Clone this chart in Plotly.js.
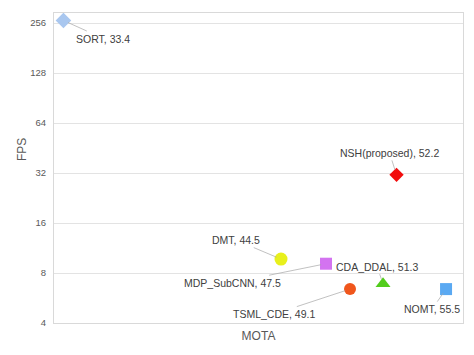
<!DOCTYPE html>
<html><head><meta charset="utf-8">
<script src="https://cdn.plot.ly/plotly-3.0.1.min.js"></script>
<style>html,body{margin:0;padding:0;background:#fff}#chart{width:474px;height:355px}</style>
</head><body><div id="chart"></div>
<script>
const methods = ["SORT", "NSH(proposed)", "DMT", "MDP_SubCNN", "CDA_DDAL", "TSML_CDE", "NOMT"];
const mota = [33.4, 52.2, 44.5, 47.5, 51.3, 49.1, 55.5];
const xPlotted = [30.0, 52.2, 44.5, 47.5, 51.3, 49.1, 55.5];
const fps = [265, 31.2, 9.7, 9.1, 6.9, 6.4, 6.4];
const colors = ["#a9c7ef", "#f20d0d", "#e8f01c", "#d373f0", "#52cc1c", "#f0561c", "#5aa9f2"];
const symbols = ["diamond", "diamond", "circle", "square", "triangle-up", "circle", "square"];
const sizes = [12, 11, 13, 12, 13, 12, 12];
const labelDx = [40, -7, -45, -94, -6, -76, -14];
const labelDy = [18, -22, -19, 19, -17, 25, 20];
const yTicks = [4, 8, 16, 32, 64, 128, 256];

const font = {family: "Liberation Sans, Arial, sans-serif", size: 10, color: "#404040"};
const trace = {
  type: "scatter", mode: "markers", x: xPlotted, y: fps,
  marker: {color: colors, symbol: symbols, size: sizes, opacity: 1, line: {width: 0}},
  hoverinfo: "skip", showlegend: false
};
const annotations = methods.map((m, i) => ({
  x: xPlotted[i], y: Math.log10(fps[i]), xref: "x", yref: "y",
  text: m + ", " + mota[i], showarrow: true, arrowhead: 0, arrowwidth: 0.7,
  arrowcolor: "#a6a6a6", standoff: 5, ax: labelDx[i], ay: labelDy[i],
  font: {family: font.family, size: 10.5, color: "#404040"}
}));
annotations.push({
  text: "FPS", xref: "paper", yref: "paper", x: (22 - 54) / 409, y: (323 - 150) / 310,
  xanchor: "center", yanchor: "middle", textangle: -90, showarrow: false,
  font: {family: font.family, size: 12, color: "#595959"}
});
const layout = {
  width: 474, height: 355,
  margin: {l: 54, r: 11, t: 13, b: 32},
  paper_bgcolor: "#fff", plot_bgcolor: "#fff",
  font: font,
  xaxis: {range: [29.37, 56.63], showticklabels: false, ticks: "", showgrid: false,
    zeroline: false, showline: true, linecolor: "#d9d9d9", linewidth: 1, mirror: true,
    title: {text: "MOTA", standoff: 8, font: {family: font.family, size: 12, color: "#595959"}}},
  yaxis: {type: "log", range: [Math.log10(4), Math.log10(Math.pow(2, 8.2))],
    tickvals: yTicks, ticktext: yTicks.map(String), ticks: "outside", ticklen: 5,
    tickcolor: "rgba(255,255,255,0)",
    tickfont: {family: font.family, size: 9.5, color: "#595959"},
    showgrid: true, gridcolor: "#e3e3e3", gridwidth: 1, zeroline: false,
    showline: true, linecolor: "#d9d9d9", linewidth: 1, mirror: true},
  annotations: annotations
};
Plotly.newPlot("chart", [trace], layout, {staticPlot: true, displayModeBar: false});
</script></body></html>
